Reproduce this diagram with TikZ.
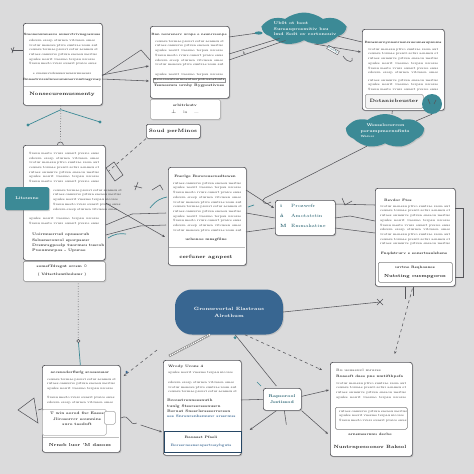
\documentclass[tikz,border=0pt]{standalone}
\usetikzlibrary{shapes.symbols,shapes.geometric,shadows,arrows.meta,calc}
\definecolor{bg}{RGB}{219,219,220}
\definecolor{tealA}{RGB}{60,138,150}
\definecolor{navyA}{RGB}{56,102,145}
\definecolor{edgeA}{RGB}{85,85,90}
\definecolor{tealT}{RGB}{35,95,110}
\newcommand\gibl[1]{\ifcase#1 Sranu mesto rvurs ounsrt pvaice enus\or sdourn eresp oturnsa vitcusen omes\or vrotur mensau ptivo suntrae rsom aut\or ceunsu tormae prenvi sotur aenmsu ot\or rutaes onmurve pitrun ensaou mertus\or apulse nosrit vuesmo terpau nicorse\fi}
\newcommand\gtxt[3][0]{\parbox[t]{#2}{\fontsize{3.1}{4.7}\selectfont\color{black!80}\foreach\gi in {1,...,#3}{\pgfmathtruncatemacro\gj{mod(\gi+#1,6)}\makebox[#2][s]{\gibl{\gj}}\par}}}
\begin{document}
\begin{tikzpicture}[x=1pt,y=-1pt,
 card/.style={draw=edgeA, line width=0.7pt, fill=white, rounded corners=2.5pt, anchor=north west, inner sep=0pt, drop shadow={opacity=0.3, shadow xshift=1pt, shadow yshift=-1pt}},
 subbox/.style={draw=black!35, line width=0.5pt, fill=white, rounded corners=1.5pt, anchor=north west, inner sep=0pt},
 txt/.style={anchor=north west, inner sep=0pt},
 hd/.style={font=\fontsize{3.4}{4.4}\selectfont\bfseries, text=black!85, inner sep=0pt},
 lbl/.style={font=\fontsize{4.8}{5.8}\selectfont\bfseries, text=black!85, inner sep=0pt},
 bl/.style={txt, font=\fontsize{3.6}{5.4}\selectfont\bfseries, text=black!80, align=left},
 wt/.style={font=\fontsize{4}{5.4}\selectfont\bfseries, text=white, inner sep=0pt, align=left},
 blob/.style={cloud, cloud puffs=7, cloud puff arc=75, fill=tealA, inner sep=0pt, drop shadow={opacity=0.25, shadow xshift=1pt, shadow yshift=-1pt}},
 con/.style={draw=edgeA, line width=0.55pt},
 tcon/.style={draw=tealA, line width=0.7pt},
 arr/.style={-{Stealth[length=3pt,width=2.4pt]}},
 sepl/.style={draw=black!25, line width=0.5pt}]
\fill[bg] (0,0) rectangle (474,474);
\useasboundingbox (0,0) rectangle (474,474);

% ---------- Box A ----------
\node[card, minimum width=79pt, minimum height=82pt] (A) at (23,23) {};
\node[hd, font=\fontsize{3.1}{4}\selectfont\bfseries] at (62,35) {Smonenumusevs aunsrctrivnsgosuuas};
\node[txt] at (29,39) {\gtxt{66pt}{6}};
\node[hd, font=\fontsize{3}{4}\selectfont] at (62,73) {e srnsunvrslsnuusrnsnrsrsmueurs};
\node[hd, font=\fontsize{3.1}{4}\selectfont\bfseries] at (62,80) {Bnnsetrnrenlnrsoumnnerrnmtnsgrmsy};
\draw[sepl] (24,86) -- (101,86);
\node[lbl] at (62,94) {Nonsecuremusmenty};

% ---------- Box B ----------
\node[card, minimum width=79pt, minimum height=72pt] (B) at (150,26) {};
\node[hd, font=\fontsize{3.1}{4}\selectfont\bfseries] at (189,35) {Bnn nonrenerv urnpe e nsunrreonpe};
\node[txt] at (155,40) {\gtxt[2]{68pt}{6}};
\node[txt] at (155,73) {\gtxt[4]{68pt}{1}};
\node[hd, font=\fontsize{2.9}{4}\selectfont\bfseries, draw=black!40, inner sep=0.6pt] at (189,80) {Bsnrerssuleurmnsntnerpntrusnstunts};
\node[hd] at (189,86) {Tsaneemrs urnhy Bygpostivues};
\node[subbox, minimum width=70pt, minimum height=20pt, drop shadow={opacity=0.25, shadow xshift=1pt, shadow yshift=-1pt}] (Bs) at (150,99) {};
\node[hd] at (185,105) {srbitrlsutv};
\node[hd, font=\fontsize{3.4}{4}\selectfont] at (185,112) {$\perp$\qquad lu\qquad ---};
\node[subbox, draw=edgeA, line width=0.6pt, minimum width=54pt, minimum height=14pt, drop shadow={opacity=0.3, shadow xshift=1pt, shadow yshift=-1pt}] (S) at (146,124) {};
\node[lbl] at (173,131) {Soud perMinos};

% ---------- Cloud 1 ----------
\node[blob, aspect=2.4, minimum width=82pt, minimum height=33pt] (C1) at (304,29) {};
\node[wt] at (305,29) {Ub0t ot beot\\Sureauprosmitiv bsu\\lmd Sedt ov cortonouiv};

% ---------- Box C ----------
\node[card, minimum width=82pt, minimum height=81pt] (C) at (362,29) {};
\node[hd, font=\fontsize{3.1}{4}\selectfont\bfseries] at (403,43) {Bnnsmurnynnsnrnsnrsueumssupnums};
\node[txt] at (368,48) {\gtxt[1]{70pt}{6}};
\node[txt] at (368,79) {\gtxt[3]{70pt}{3}};
\node[subbox, draw=black!40, minimum width=58pt, minimum height=14pt, fill=black!4] (Cb) at (365,94) {};
\node[lbl] at (394,101) {Dotanicbeuster};
\node[circle, fill=tealA, minimum size=20pt, inner sep=0pt] (Cbl) at (432,104) {};
\draw[edgeA, line width=0.6pt] (428,99) -- (430,104) (436,100) -- (434,104);

% ---------- Cloud 2 ----------
\node[blob, aspect=2.2, minimum width=76pt, minimum height=34pt] (C2) at (385,131) {};
\node[wt] at (385,131) {\hspace*{6pt}Wesselocercon\\perumpmecnufints\\{\fontsize{3}{4}\selectfont Waiver}};

% ---------- Box D ----------
\node[card, minimum width=82pt, minimum height=115pt] (D) at (23,145) {};
\node[txt] at (29,152) {\gtxt[5]{70pt}{7}};
\node[txt] at (53,189) {\gtxt[2]{46pt}{5}};
\node[txt] at (29,217) {\gtxt[4]{70pt}{2}};
\node[bl] at (32,233) {Uoirmuerrud opuesorub\\Sslusnsronrol eporpsaur\\Drsmrsgpoelp tuormsu tusrob\\Puoumnrpos - Upurae};
\node[fill=tealA, rounded corners=2pt, minimum width=44pt, minimum height=23pt, anchor=north west, inner sep=0pt, drop shadow={opacity=0.35, shadow xshift=1pt, shadow yshift=-1pt}] (Dt) at (5,187) {};
\node[wt] at (27,198.5) {Liteunne};
\node[subbox, draw=black!45, minimum width=82pt, minimum height=20pt, drop shadow={opacity=0.25, shadow xshift=1pt, shadow yshift=-1pt}] (DB) at (23,261) {};
\node[hd] at (62,267) {somefTdrsgnt orrsm $\circ$};
\node[hd] at (62,275) {( Vdtsctlumthulumr )};

% ---------- Box E ----------
\node[card, minimum width=78pt, minimum height=98pt] (E) at (168,167) {};
\node[hd] at (205,177) {Fnerlge Rursreuscusdtewsn};
\node[txt] at (173,182) {\gtxt[3]{68pt}{11}};
\node[hd] at (206,240) {uchonoe mnsgfilne};
\draw[sepl] (169,247) -- (245,247);
\node[lbl] at (206,257) {cerfuner agnpest};

% ---------- Box F ----------
\node[card, minimum width=60pt, minimum height=35pt] (F) at (275,200) {};
\node[txt, font=\fontsize{4.6}{10}\selectfont\bfseries, text=tealT, align=left] at (280,204) {i\\å\\M};
\node[txt, font=\fontsize{4.6}{10}\selectfont, text=tealT, align=left] at (291,204) {Prozwefr\\Amotatstin\\Emmakatine};

% ---------- Box G ----------
\node[card, minimum width=80pt, minimum height=98pt] (G) at (375,188) {};
\node[hd] at (398,200) {Bevdor Ftes};
\node[txt] at (380,205) {\gtxt[1]{70pt}{9}};
\node[hd] at (414,254) {Fnqdstrurv e eonsrtusalsbens};
\node[subbox, draw=black!50, minimum width=74pt, minimum height=20pt] (Gb) at (378,262) {};
\node[hd] at (415,268) {urrtne Rsqhoanes};
\node[lbl, font=\fontsize{4.4}{5}\selectfont\bfseries] at (415,276) {Nutsting cusmpgoros};

% ---------- Central blob ----------
\node[rectangle, rounded corners=17pt, fill=navyA, minimum width=108pt, minimum height=45pt, inner sep=0pt, drop shadow={opacity=0.25, shadow xshift=1pt, shadow yshift=-1pt}] (E0) at (229,312) {};
\node[wt, align=center, font=\fontsize{4.6}{7}\selectfont\bfseries] at (229,312) {Gronsevortal Elastraus\\Alrothum};

% ---------- Box H ----------
\node[card, minimum width=78pt, minimum height=87pt] (H) at (42,365) {};
\node[hd] at (80,373) {accsuoderflwfg sroesouaor};
\node[txt] at (47,378) {\gtxt[2]{66pt}{3}};
\node[txt] at (47,396) {\gtxt[5]{66pt}{2}};
\node[subbox, draw=black!30, minimum width=64pt, minimum height=26pt] (Hb) at (42,409) {};
\node[bl, align=center] at (50,412) {T win aorod fnc Eaees\\Jlirosorrcr eounnins\\suro taeduft};
\node[subbox, draw=black!35, minimum width=11pt, minimum height=13pt] (Hs) at (104,411) {};
\draw[sepl] (43,437) -- (119,437);
\node[lbl, font=\fontsize{4.3}{5}\selectfont\bfseries] at (80,445) {Nrneb luor 'M dasoes};

% ---------- Box I ----------
\node[card, minimum width=78pt, minimum height=95pt] (I) at (163,360) {};
\node[hd, anchor=west] at (168,367) {Wrody Ucons 4};
\node[txt] at (168,371) {\gtxt[4]{55pt}{1}};
\node[txt] at (168,381) {\gtxt{66pt}{3}};
\node[bl] at (167,399) {Bcoustrenneesnuth\\tunlg Stesrsersesnusrn\\Beruat Snesrlsrsseerrsresn};
\node[bl, text=navyA] at (167,415) {ses Snrsnrsnbsmunr srssrnus};
\node[draw=navyA!70!black, line width=1.2pt, fill=white, anchor=north west, minimum width=77pt, minimum height=21pt, inner sep=0pt] (Ib) at (163.5,431) {};
\node[hd] at (201,437) {Rauaast Pfaeli};
\node[hd, text=navyA] at (201,446) {Borsernesnsrapsrtuaybguts};

% ---------- Box J ----------
\node[card, minimum width=38pt, minimum height=22pt] (J) at (263,388) {};
\node[font=\fontsize{4}{5.4}\selectfont\bfseries, text=tealT, align=center, inner sep=0pt] at (282,399) {Rapsorool\\Jestissod};

% ---------- Box K ----------
\node[card, minimum width=82pt, minimum height=94pt] (K) at (330,362) {};
\node[hd, anchor=west, text=black!60] at (336,370) {Bu ueuseuvl mrarse};
\node[hd, anchor=west] at (336,377) {Ruaeeft daes pne nmtifthpefa};
\node[txt] at (336,382) {\gtxt[1]{70pt}{4}};
\node[subbox, draw=black!50, minimum width=72pt, minimum height=22pt] (Kb) at (335,407) {};
\node[txt] at (339,410) {\gtxt[3]{64pt}{3}};
\node[hd] at (370,434) {arnsmesrnnu decbe};
\node[lbl, font=\fontsize{4.6}{5}\selectfont\bfseries] at (370,447) {Nuntrnpesoonov Baksol};

% ---------- Connectors ----------
\coordinate (a0) at (12,50);
\draw[con] (a0) -- ($(A.north west)+(0,27)$);
\draw[con] (11,48) -- (13,52) (14,47) -- (12,53);
\draw[con] ($(A.north west)+(79,53)$) -- (141,50) -- ($(B.north west)+(0,34)$);
\draw[con, arr] ($(A.north west)+(79,52)$) -- ($(B.north west)+(-1,40)$);
\draw[con, arr] ($(A.north west)+(79,56)$) -- ($(B.north west)+(-1,55)$);
\draw[con, dotted, line width=0.7pt] ($(A.south)+(-2,0)$) -- ($(D.north)+(-4,-4)$);
\draw[con, fill=bg] ($(D.north)+(-7,0)$) arc (180:0:3pt);
\coordinate (t1) at (28,125);
\coordinate (t2) at (100,122);
\draw[tcon] (t1) -- ($(A.south)+(-2,4)$) -- (t2);
\fill[tealA] (t1) circle (1.6pt) (t2) circle (1.6pt);

\draw[con] ($(B.north west)+(79,11)$) -- ($(C1.west)+(-4,4)$);
\fill[tealA] ($(C1.west)+(-3,4)$) ellipse (4pt and 1.6pt);
\draw[con] ($(B.north west)+(79,28)$) -- ($(C1.south west)+(4,-2)$);
\draw[con] ($(B.north west)+(79,34)$) -- ($(C1.south west)+(10,0)$);
\node[hd, font=\fontsize{4}{5}\selectfont] at (244,53) {b};
\draw[con] (C1.-12) -- ($(C.north west)+(0,13)$);
\draw[con, arr] (C1.-55) -- ($(C.north west)+(-1,23)$);
\node[draw=edgeA, fill=white, rotate=-30, inner sep=0.6pt, font=\fontsize{2.8}{3}\selectfont\bfseries, text=tealT] at (333,50) {Kooty};
\draw[con] (343,56) .. controls (348,64) and (354,62) .. (352,58);

\draw[con] ($(C.south)+(-11,0)$) -- ($(C2.north)+(7,0)$);
\draw[con] (Cbl.south) -- (C2.18);
\draw[con] (C2.-140) -- ($(F.north west)+(-10,-2)$);
\draw[con] ($(F.north west)+(-10,-2)$) .. controls ($(F.north west)+(-16,2)$) and ($(F.north west)+(-8,6)$) .. ($(F.north west)+(-4,2)$);

\draw[con, dashed] (S.south west) -- ($(D.north east)+(3,26)$);
\draw[con] (106,168) -- (114,162) -- (123,175) -- (115,181) -- cycle;

\draw[con, arr] ($(D.north east)+(0,58)$) -- ($(E.north west)+(-3,70)$);
\draw[con] ($(D.north east)+(0,90)$) -- (140,226) -- ($(E.north west)+(-2,58)$);
\draw[con] ($(D.north east)+(0,80)$) -- (132,214) -- ($(E.north west)+(-2,46)$);
\draw[tcon] (150,208) .. controls (156,200) and (162,198) .. ($(E.north west)+(-1,30)$);
\draw[tcon] (108,238) .. controls (114,234) and (120,233) .. (126,234);
\draw[con] (135,190) -- (138,182) (134,186) -- (142,188);
\draw[con] (152,190) -- (160,185) -- (163,190);

\draw[con, arr] ($(E.north west)+(78,23)$) -- ($(F.north west)+(-1,8)$);
\draw[con] ($(E.north west)+(78,46)$) -- ($(F.north west)+(0,18)$);
\draw[con] ($(E.north west)+(78,65)$) -- ($(F.north west)+(0,28)$);
\draw[tcon] ($(E.north west)+(80,40)$) -- ($(E.north west)+(86,38)$);

\draw[con] ($(F.north west)+(60,4)$) -- ($(G.north west)+(0,17)$);
\draw[con] ($(F.north west)+(60,18)$) -- (350,216) -- ($(G.north west)+(0,33)$);
\draw[con] ($(F.north west)+(60,28)$) -- ($(G.north west)+(0,45)$);
\draw[con] (342,198) -- (345,205) -- (352,201);
\draw[con] ($(G.north west)+(80,20)$) -- (463,208) -- (463,277) -- ($(G.north west)+(80,89)$);
\draw[con] ($(G.south)+(-10,0)$) -- ($(G.south)+(-10,12)$);
\draw[con] ($(G.south)+(-2,0)$) -- ($(G.south)+(-2,9)$);

\draw[con] (E0.east) -- (380,302);
\draw[con] (377,299) -- (383,305) (383,299) -- (377,305);
\draw[con, dashed, arr] ($(G.south)+(-3,2)$) -- ($(K.north east)+(-18,-8)$);
\draw[con, dashed, arr] (E0.-55) -- ($(K.north west)+(-8,8)$);
\draw[con] (E0.-75) -- ($(J.north)+(-6,-2)$);
\fill[tealA] ($(E0.-75)+(0,3)$) circle (1.6pt);
\draw[black!45, line width=2.5pt] (E0.-130) -- ($(I.north west)+(6,-4)$);
\draw[white, line width=1.3pt, dash pattern=on 1pt off 1pt] (E0.-130) -- ($(I.north west)+(6,-4)$);
\draw[con, dashed, arr] ($(I.north west)+(-6,-10)$) -- ($(H.north east)+(3,11)$);
\fill[navyA] ($(H.north east)+(6,7)$) circle (1.3pt);

\draw[con, dotted, line width=0.7pt] ($(DB.south)+(14,2)$) -- ($(H.north)+(-3,-24)$);
\draw[tcon] ($(H.north)+(-3,-24)$) -- ($(H.north)+(-1,0)$);
\draw[con, fill=bg] ($(H.north)+(-3,-24)$) circle (1.6pt);
\draw[con] (18,410) -- (34,398) -- (38,423) -- cycle;
\draw[con] (38,410) -- (H.west);

\draw[con] ($(H.north east)+(0,53)$) .. controls ($(H.north east)+(10,48)$) and ($(H.north east)+(8,62)$) .. ($(H.north east)+(16,58)$);
\draw[con, arr] ($(H.north east)+(20,60)$) -- ($(I.north west)+(-1,72)$);
\draw[con] ($(I.north west)+(78,40)$) -- (J.west);
\draw[con, arr] ($(J.south)+(-6,0)$) -- ($(I.north east)+(8,70)$);
\draw[con] ($(J.south)+(2,0)$) -- ($(J.south)+(4,14)$);
\draw[con, arr] ($(J.east)+(0,-3)$) -- ($(K.north west)+(-1,28)$);
\draw[con, arr] (J.south east) -- ($(K.north west)+(-2,72)$);
\draw[tcon] ($(J.north west)+(-6,-6)$) -- ($(J.north west)+(-2,-2)$);
\end{tikzpicture}
\end{document}
